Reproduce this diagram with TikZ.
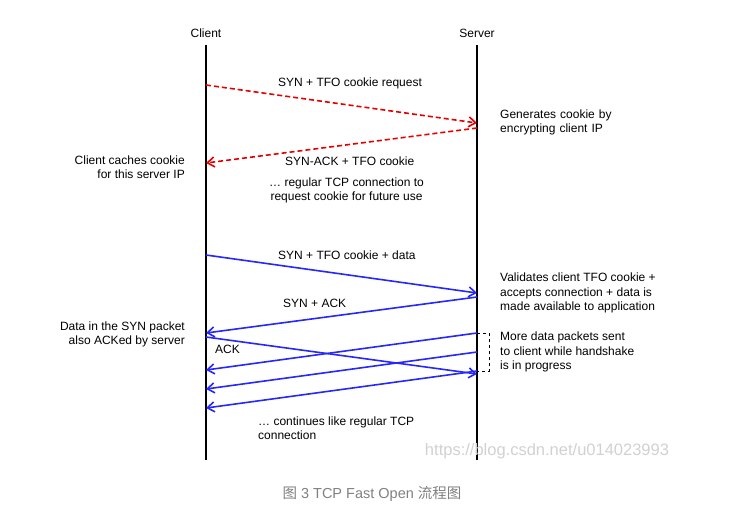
\documentclass[tikz,border=0pt]{standalone}
\usepackage{fontspec}
\setmainfont{Liberation Sans}
\newfontfamily\cjk{Noto Sans CJK SC}
\usetikzlibrary{arrows.meta}
\begin{document}
\begin{tikzpicture}[x=1pt,y=-1pt,
  lbl/.style={font=\fontsize{12}{14.2}\selectfont, align=left, inner sep=0},
  red msg/.style={draw=red!90!black, line width=1.6pt, dash pattern=on 5pt off 3pt, -{Straight Barb[length=7pt,width=10pt]}},
  blue msg/.style={draw=blue!85!white, line width=1.6pt, -{Straight Barb[length=7pt,width=10pt]}},
  life/.style={draw=black, line width=1.8pt}]
\useasboundingbox (0,0) rectangle (745,515);
\node[lbl] (cl) at (206,33) {Client};
\node[lbl] (sv) at (477,33) {Server};
\coordinate (ct) at (206,45); \coordinate (cb) at (206,460);
\coordinate (st) at (477,45); \coordinate (sb) at (477,460);
\draw[life] (ct) -- (cb);
\draw[life] (st) -- (sb);
% red
\coordinate (c1) at (206,85); \coordinate (s1) at (477,123);
\coordinate (s2) at (477,128); \coordinate (c2) at (206,163);
\draw[red msg] (c1) -- (s1);
\draw[red msg] (s2) -- (c2);
% blue
\coordinate (c3) at (206,255); \coordinate (s3) at (477,293);
\coordinate (s4) at (477,297); \coordinate (c4) at (206,333);
\coordinate (c5) at (206,337); \coordinate (s5) at (477,374);
\coordinate (s6) at (477,333); \coordinate (c6) at (206,370);
\coordinate (s7) at (477,352); \coordinate (c7) at (206,389);
\coordinate (s8) at (477,371); \coordinate (c8) at (206,408);
\draw[blue msg] (c3) -- (s3);
\draw[blue msg] (s4) -- (c4);
\draw[blue msg] (c5) -- (s5);
\draw[blue msg] (s6) -- (c6);
\draw[blue msg] (s7) -- (c7);
\draw[blue msg] (s8) -- (c8);
\coordinate (b1) at (489,333); \coordinate (b2) at (489,371);
\draw[dashed, thin] (s6) -- (b1) -- (b2) -- (s8);
% labels
\node[lbl, anchor=west] (t1) at (278,83) {SYN + TFO cookie request};
\node[lbl, anchor=west, text width=140pt] (t2) at (500,122) {Generates cookie by\\encrypting client IP};
\node[lbl, anchor=east, align=right] (t3) at (185,167) {Client caches cookie\\for this server IP};
\node[lbl, anchor=west] (t4) at (285,161) {SYN-ACK + TFO cookie};
\node[lbl, anchor=west, align=center] (t5) at (269,190) {\dots{} regular TCP connection to\\request cookie for future use};
\node[lbl, anchor=west] (t6) at (278,255) {SYN + TFO cookie + data};
\node[lbl, anchor=west] (t7) at (500,293) {Validates client TFO cookie +\\accepts connection + data is\\made available to application};
\node[lbl, anchor=west] (t8) at (283,303) {SYN + ACK};
\node[lbl, anchor=east, align=right] (t9) at (185,334) {Data in the SYN packet\\also ACKed by server};
\node[lbl, anchor=west] (t10) at (215,349) {ACK};
\node[lbl, anchor=west] (t11) at (500,352) {More data packets sent\\to client while handshake\\is in progress};
\node[lbl, anchor=west] (t12) at (258,428) {\dots{} continues like regular TCP\\connection};
\node[inner sep=0, text=black!18, font=\fontsize{16.5}{18}\selectfont] (wm) at (547,451) {https://blog.csdn.net/u014023993};
\node[inner sep=0, text=black!50, font=\fontsize{14.5}{16}\selectfont] (cap) at (372,494) {{\cjk 图} 3 TCP Fast Open {\cjk 流程图}};
\end{tikzpicture}
\end{document}
